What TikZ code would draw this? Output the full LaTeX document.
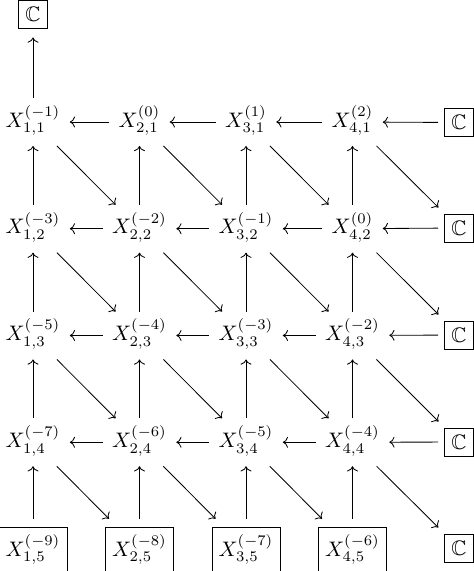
\documentclass[tikz,border=0pt]{standalone}
\usepackage{amssymb}
\usetikzlibrary{arrows.meta}
\begin{document}
\begin{tikzpicture}[x=0.47619pt,y=-0.47619pt,
  cell/.style={inner xsep=4.3pt, inner ysep=3.3pt, text height=10.4pt, text depth=5.4pt},
  boxx/.style={draw, line width=0.4pt, text height=10.4pt, text depth=4pt, inner sep=3.2pt, outer sep=4.2pt},
  boxc/.style={draw, line width=0.4pt, inner sep=3.2pt, outer sep=3.1pt},
  arr/.style={-{Computer Modern Rightarrow}, line width=0.4pt}]
\useasboundingbox (0,0) rectangle (474,571);
\foreach \i/\xx in {1/33,2/139.5,3/246,4/352.5}{
  \foreach \j/\yy in {1/122,2/228.7,3/335.5,4/442.3}{
    \pgfmathtruncatemacro\e{\i-2*\j}
    \node[cell] (x\i\j) at (\xx,\yy) {$X_{\i,\j}^{(\e)}$};
  }
  \pgfmathtruncatemacro\e{\i-10}
  \node[boxx] (x\i5) at (\xx,549.5) {$X_{\i,5}^{(\e)}$};
}
\node[boxc, outer sep=4.3pt] (c0) at (33,14.5) {$\mathbb{C}$};
\foreach \j/\yy in {1/122.5,2/228,3/335,4/442,5/548}{
  \node[boxc] (c\j) at (459,\yy) {$\mathbb{C}$};
}
\draw[arr] (x11) -- (c0);
\foreach \j in {1,2,3,4}{
  \pgfmathtruncatemacro\jp{\j+1}
  \draw[arr] (c\j) -- (x4\j);
  \draw[arr] (x4\j) -- (c\jp);
  \foreach \i in {1,2,3,4}{
    \draw[arr] (x\i\jp) -- (x\i\j);
  }
  \foreach \i in {1,2,3}{
    \pgfmathtruncatemacro\ip{\i+1}
    \draw[arr] (x\ip\j) -- (x\i\j);
    \draw[arr] (x\i\j) -- (x\ip\jp);
  }
}
\end{tikzpicture}
\end{document}
